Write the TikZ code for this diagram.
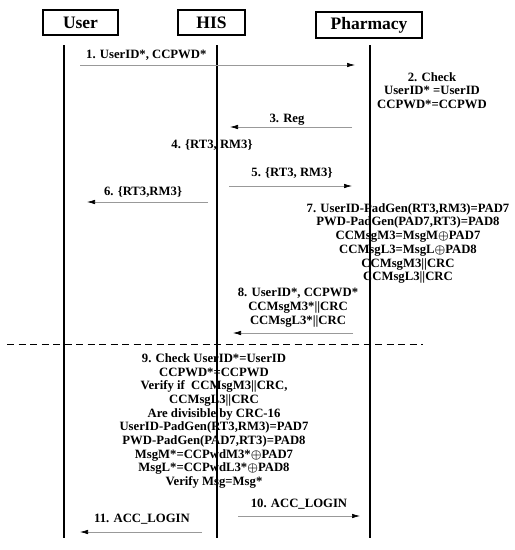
\documentclass[tikz,border=0pt]{standalone}
\usepackage{fontspec}
\setmainfont{Liberation Serif}
\usetikzlibrary{arrows.meta}
\begin{document}
\begin{tikzpicture}[x=1pt,y=-1pt,
  actor/.style={draw,line width=1.1pt,inner sep=0pt,font=\fontsize{17.5}{20}\selectfont\bfseries},
  life/.style={line width=1.2pt},
  msg/.style={draw=black!40,line width=0.7pt,-{Latex[length=8pt,width=4.5pt,color=black]}},
  lbl/.style={font=\fontsize{12.7}{13.7}\selectfont\bfseries\boldmath,align=center,inner sep=0pt},
  sep/.style={line width=0.8pt,dash pattern=on 7pt off 4.5pt}]
\useasboundingbox (0,0) rectangle (515,550);
% actors
\node[actor,minimum width=75pt,minimum height=25pt] (user) at (80.5,22.5) {User};
\node[actor,minimum width=67pt,minimum height=25pt] (his) at (211.5,22.5) {HIS};
\node[actor,minimum width=106pt,minimum height=26pt] (ph) at (369,25) {Pharmacy};
% lifelines
\coordinate (uT) at (64,45); \coordinate (uB) at (64,538);
\coordinate (hT) at (217,45); \coordinate (hB) at (217,538);
\coordinate (pT) at (370,45); \coordinate (pB) at (370,538);
\draw[life] (uT) -- (uB);
\draw[life] (hT) -- (hB);
\draw[life] (pT) -- (pB);
% message 1
\coordinate (m1a) at (80,65); \coordinate (m1b) at (355,65);
\draw[msg] (m1a) -- (m1b);
\node[lbl,anchor=west] (l1) at (86,55) {1. UserID*, CCPWD*};
% 2
\node[lbl] (l2) at (432,90.5) {2. Check\\UserID* =UserID\\CCPWD*=CCPWD};
% 3
\coordinate (m3a) at (352,127); \coordinate (m3b) at (230,127);
\draw[msg] (m3a) -- (m3b);
\node[lbl] (l3) at (287,120) {3. Reg};
% 4
\node[lbl] (l4) at (212,145) {4. \{RT3, RM3\}};
% 5
\coordinate (m5a) at (229,186); \coordinate (m5b) at (352,186);
\draw[msg] (m5a) -- (m5b);
\node[lbl] (l5) at (292,173) {5. \{RT3, RM3\}};
% 6
\coordinate (m6a) at (208,202); \coordinate (m6b) at (87,202);
\draw[msg] (m6a) -- (m6b);
\node[lbl] (l6) at (143,192) {6. \{RT3,RM3\}};
% 7
\node[lbl] (l7) at (408,243.5) {7. UserID-PadGen(RT3,RM3)=PAD7\\PWD-PadGen(PAD7,RT3)=PAD8\\CCMsgM3=MsgM$\oplus$PAD7\\CCMsgL3=MsgL$\oplus$PAD8\\CCMsgM3||CRC\\CCMsgL3||CRC};
% 8
\node[lbl] (l8) at (298,307.5) {8. UserID*, CCPWD*\\CCMsgM3*||CRC\\CCMsgL3*||CRC};
\coordinate (m8a) at (353,333); \coordinate (m8b) at (233,333);
\draw[msg] (m8a) -- (m8b);
% separator
\coordinate (d1) at (7,344); \coordinate (d2) at (423,344);
\draw[sep] (d1) -- (d2);
% 9
\node[lbl] (l9) at (214,421) {9. Check UserID*=UserID\\CCPWD*=CCPWD\\Verify if\ \ CCMsgM3||CRC,\\CCMsgL3||CRC\\Are divisible by CRC-16\\UserID-PadGen(RT3,RM3)=PAD7\\PWD-PadGen(PAD7,RT3)=PAD8\\MsgM*=CCPwdM3*$\oplus$PAD7\\MsgL*=CCPwdL3*$\oplus$PAD8\\Verify Msg=Msg*};
% 10
\coordinate (m10a) at (238,516); \coordinate (m10b) at (360,516);
\draw[msg] (m10a) -- (m10b);
\node[lbl] (l10) at (299,504) {10. ACC\_LOGIN};
% 11
\coordinate (m11a) at (202,532); \coordinate (m11b) at (80,532);
\draw[msg] (m11a) -- (m11b);
\node[lbl] (l11) at (142,519) {11. ACC\_LOGIN};
\end{tikzpicture}
\end{document}
